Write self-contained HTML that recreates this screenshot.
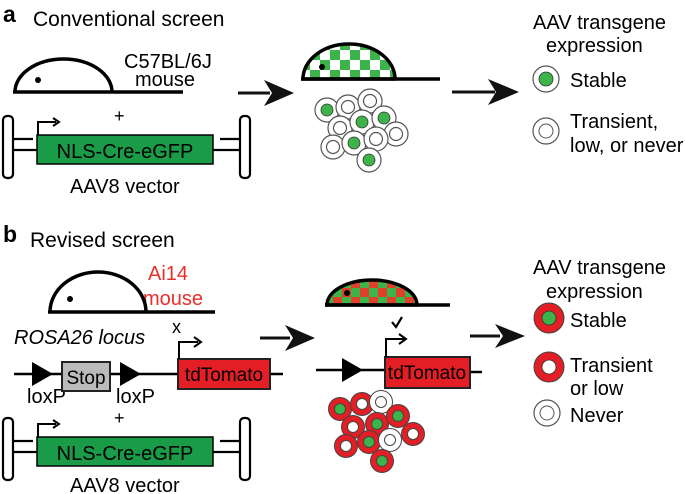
<!DOCTYPE html>
<html><head><meta charset="utf-8"><style>
html,body{margin:0;padding:0;background:#fff;}
svg{display:block;font-family:"Liberation Sans",sans-serif;}
</style></head><body>
<svg width="685" height="494" viewBox="0 0 685 494" xmlns="http://www.w3.org/2000/svg">
<defs>
<pattern id="gchk" x="0" y="0" width="20" height="20" patternUnits="userSpaceOnUse">
<rect width="20" height="20" fill="#fff"/><rect width="10" height="10" fill="#3cb44a"/><rect x="10" y="10" width="10" height="10" fill="#3cb44a"/>
</pattern>
<pattern id="rchk" x="0" y="0" width="18" height="18" patternUnits="userSpaceOnUse">
<rect width="18" height="18" fill="#3cb44a"/><rect width="9" height="9" fill="#e0402a"/><rect x="9" y="9" width="9" height="9" fill="#e0402a"/>
</pattern>
</defs>
<g fill="#000" font-size="20">
<text x="3" y="22" font-weight="bold" font-size="23">a</text>
<text x="33" y="26" font-size="21">Conventional screen</text>
<text x="124" y="68">C57BL/6J</text>
<text x="135" y="86">mouse</text>
<text x="114" y="122" font-size="18">+</text>
<text x="70" y="193">AAV8 vector</text>
<text x="533" y="29">AAV transgene</text>
<text x="546" y="52">expression</text>
<text x="570" y="87">Stable</text>
<text x="570" y="128">Transient,</text>
<text x="570" y="152">low, or never</text>

<text x="3" y="242" font-weight="bold" font-size="23">b</text>
<text x="30" y="247" font-size="21">Revised screen</text>
<text x="148" y="280" fill="#e8302a">Ai14</text>
<text x="143" y="305" fill="#e8302a">mouse</text>
<text x="14" y="344" font-style="italic">ROSA26 locus</text>
<text x="172" y="333" font-size="18">x</text>
<text x="27" y="403">loxP</text>
<text x="116" y="403">loxP</text>
<text x="114" y="424" font-size="18">+</text>
<text x="70" y="492">AAV8 vector</text>
<text x="533" y="274">AAV transgene</text>
<text x="546" y="298">expression</text>
<text x="570" y="327">Stable</text>
<text x="570" y="372">Transient</text>
<text x="570" y="395">or low</text>
<text x="570" y="422">Never</text>
</g>

<!-- mouse a -->
<path d="M15,92 A48.5,33 0 0 1 112,92" fill="#fff" stroke="#000" stroke-width="3.5"/>
<line x1="13" y1="92" x2="183" y2="92" stroke="#000" stroke-width="3.5"/>
<circle cx="38" cy="80" r="3" fill="#000"/>

<!-- vector a -->
<g id="vec">
<rect x="3" y="116" width="10" height="62" rx="4" fill="#fff" stroke="#000" stroke-width="2.2"/>
<line x1="13" y1="139" x2="33" y2="139" stroke="#000" stroke-width="2.2"/>
<line x1="13" y1="150" x2="37" y2="150" stroke="#000" stroke-width="2.2"/>
<rect x="240" y="116" width="10" height="62" rx="4" fill="#fff" stroke="#000" stroke-width="2.2"/>
<line x1="220" y1="139" x2="240" y2="139" stroke="#000" stroke-width="2.2"/>
<line x1="213" y1="150" x2="240" y2="150" stroke="#000" stroke-width="2.2"/>
<rect x="37" y="135" width="176" height="29" fill="#1a9b48" stroke="#000" stroke-width="1.5"/>
<polyline points="38,135 38,122 56,122" fill="none" stroke="#000" stroke-width="2"/>
<path d="M53,118 L59,122 L53,126" fill="none" stroke="#000" stroke-width="2"/>
<text x="125" y="158" font-size="20" text-anchor="middle" fill="#000">NLS-Cre-eGFP</text>
</g>
<use href="#vec" y="302"/>

<!-- arrows -->
<g fill="#111">
<line x1="238" y1="93" x2="270" y2="93" stroke="#111" stroke-width="3"/>
<path d="M264,80 L294,93 L264,106 L272,93Z"/>
<line x1="452" y1="92" x2="495" y2="92" stroke="#111" stroke-width="3"/>
<path d="M488,79 L519,92 L488,105 L496,92Z"/>
<line x1="260" y1="338" x2="290" y2="338" stroke="#111" stroke-width="3"/>
<path d="M285,325 L315,338 L285,351 L293,338Z"/>
<line x1="470" y1="336" x2="500" y2="336" stroke="#111" stroke-width="3"/>
<path d="M495,324 L525,336 L495,348 L503,336Z"/>
</g>

<!-- checker mouse a -->
<path d="M303,79 A46,35 0 0 1 395,79Z" fill="url(#gchk)" stroke="#000" stroke-width="3.5"/>
<line x1="301" y1="79" x2="440" y2="79" stroke="#000" stroke-width="3.5"/>
<circle cx="322" cy="67" r="3" fill="#000"/>

<!-- cells a -->
<g stroke="#555" stroke-width="1.2" fill="#fff">
<circle cx="327" cy="110" r="12"/><circle cx="348" cy="107" r="12"/><circle cx="370" cy="101" r="12"/>
<circle cx="340" cy="128" r="12"/><circle cx="362" cy="122" r="12"/><circle cx="384" cy="118" r="12"/>
<circle cx="396" cy="134" r="12"/><circle cx="333" cy="147" r="12"/><circle cx="354" cy="143" r="12"/>
<circle cx="376" cy="139" r="12"/><circle cx="369" cy="160" r="12"/>
<circle cx="348" cy="107" r="6.5"/><circle cx="370" cy="101" r="6.5"/><circle cx="340" cy="128" r="6.5"/>
<circle cx="396" cy="134" r="6.5"/><circle cx="333" cy="147" r="6.5"/><circle cx="376" cy="139" r="6.5"/>
</g>
<g fill="#3cb44a" stroke="#333" stroke-width="0.8">
<circle cx="327" cy="110" r="6"/><circle cx="362" cy="122" r="6"/><circle cx="384" cy="118" r="6"/>
<circle cx="354" cy="143" r="6"/><circle cx="369" cy="160" r="6"/>
</g>

<!-- legend a -->
<circle cx="546" cy="79" r="13" fill="#fff" stroke="#555" stroke-width="1.2"/>
<circle cx="546" cy="79" r="7" fill="#3cb44a" stroke="#333" stroke-width="0.8"/>
<circle cx="546" cy="131" r="13" fill="#fff" stroke="#555" stroke-width="1.2"/>
<circle cx="546" cy="131" r="7" fill="#fff" stroke="#555" stroke-width="1"/>

<!-- mouse b -->
<path d="M50,312 A48,40 0 0 1 146,312" fill="#fff" stroke="#000" stroke-width="3.5"/>
<line x1="48" y1="312" x2="215" y2="312" stroke="#000" stroke-width="3.5"/>
<circle cx="70" cy="299" r="3" fill="#000"/>

<!-- locus b -->
<line x1="14" y1="374" x2="283" y2="374" stroke="#000" stroke-width="2.5"/>
<path d="M32,362 L53,374 L32,386Z" fill="#000"/>
<rect x="62" y="362" width="48" height="29" fill="#bbb" stroke="#222" stroke-width="2"/>
<text x="86" y="384" font-size="19" text-anchor="middle">Stop</text>
<path d="M120,362 L141,374 L120,386Z" fill="#000"/>
<rect x="178" y="359" width="92" height="30" fill="#e31e24" stroke="#222" stroke-width="2"/>
<text x="224" y="381" font-size="19" text-anchor="middle">tdTomato</text>
<polyline points="179,359 179,342 198,342" fill="none" stroke="#000" stroke-width="2"/>
<path d="M194,337 L201,342 L194,347" fill="none" stroke="#000" stroke-width="2"/>

<!-- checker mouse b -->
<path d="M327,305 A45,25 0 0 1 417,305Z" fill="url(#rchk)" stroke="#000" stroke-width="3.5"/>
<line x1="325" y1="305" x2="450" y2="305" stroke="#000" stroke-width="3.5"/>
<circle cx="347" cy="293" r="3" fill="#000"/>

<!-- middle locus -->
<line x1="316" y1="370" x2="385" y2="370" stroke="#000" stroke-width="2.5"/>
<line x1="470" y1="372" x2="482" y2="372" stroke="#000" stroke-width="2.5"/>
<path d="M342,358 L363,370 L342,382Z" fill="#000"/>
<rect x="385" y="357" width="85" height="31" fill="#e31e24" stroke="#222" stroke-width="2"/>
<text x="427" y="379" font-size="19" text-anchor="middle">tdTomato</text>
<polyline points="386,357 386,339 404,339" fill="none" stroke="#000" stroke-width="2"/>
<path d="M399,334 L406,339 L399,344" fill="none" stroke="#000" stroke-width="2"/>
<path d="M392,322 L396,327 L402,317" fill="none" stroke="#000" stroke-width="2.2"/>

<!-- cells b -->
<g stroke="#444" stroke-width="1">
<circle cx="340" cy="409" r="11.5" fill="#e31e24"/><circle cx="362" cy="404" r="11.5" fill="#e31e24"/><circle cx="381" cy="402" r="11.5" fill="#fff"/>
<circle cx="353" cy="427" r="11.5" fill="#e31e24"/><circle cx="377" cy="424" r="11.5" fill="#e31e24"/><circle cx="398" cy="416" r="11.5" fill="#e31e24"/>
<circle cx="346" cy="446" r="11.5" fill="#e31e24"/><circle cx="369" cy="442" r="11.5" fill="#e31e24"/><circle cx="390" cy="440" r="11.5" fill="#fff"/>
<circle cx="413" cy="434" r="11.5" fill="#e31e24"/><circle cx="382" cy="461" r="11.5" fill="#e31e24"/>
<circle cx="362" cy="404" r="5.5" fill="#fff"/><circle cx="381" cy="402" r="5.5" fill="#fff"/><circle cx="353" cy="427" r="5.5" fill="#fff"/>
<circle cx="346" cy="446" r="5.5" fill="#fff"/><circle cx="390" cy="440" r="5.5" fill="#fff"/><circle cx="413" cy="434" r="5.5" fill="#fff"/>
<circle cx="340" cy="409" r="5.5" fill="#3cb44a"/><circle cx="377" cy="424" r="5.5" fill="#3cb44a"/><circle cx="398" cy="416" r="5.5" fill="#3cb44a"/>
<circle cx="369" cy="442" r="5.5" fill="#3cb44a"/><circle cx="382" cy="461" r="5.5" fill="#3cb44a"/>
</g>

<!-- legend b -->
<circle cx="549" cy="318" r="15" fill="#e31e24" stroke="#444" stroke-width="1"/>
<circle cx="549" cy="318" r="7" fill="#3cb44a" stroke="#333" stroke-width="0.8"/>
<circle cx="549" cy="367" r="15" fill="#e31e24" stroke="#444" stroke-width="1"/>
<circle cx="549" cy="367" r="7" fill="#fff" stroke="#333" stroke-width="0.8"/>
<circle cx="547" cy="413" r="13" fill="#fff" stroke="#555" stroke-width="1.2"/>
<circle cx="547" cy="413" r="7" fill="#fff" stroke="#555" stroke-width="1"/>
</svg>
</body></html>
